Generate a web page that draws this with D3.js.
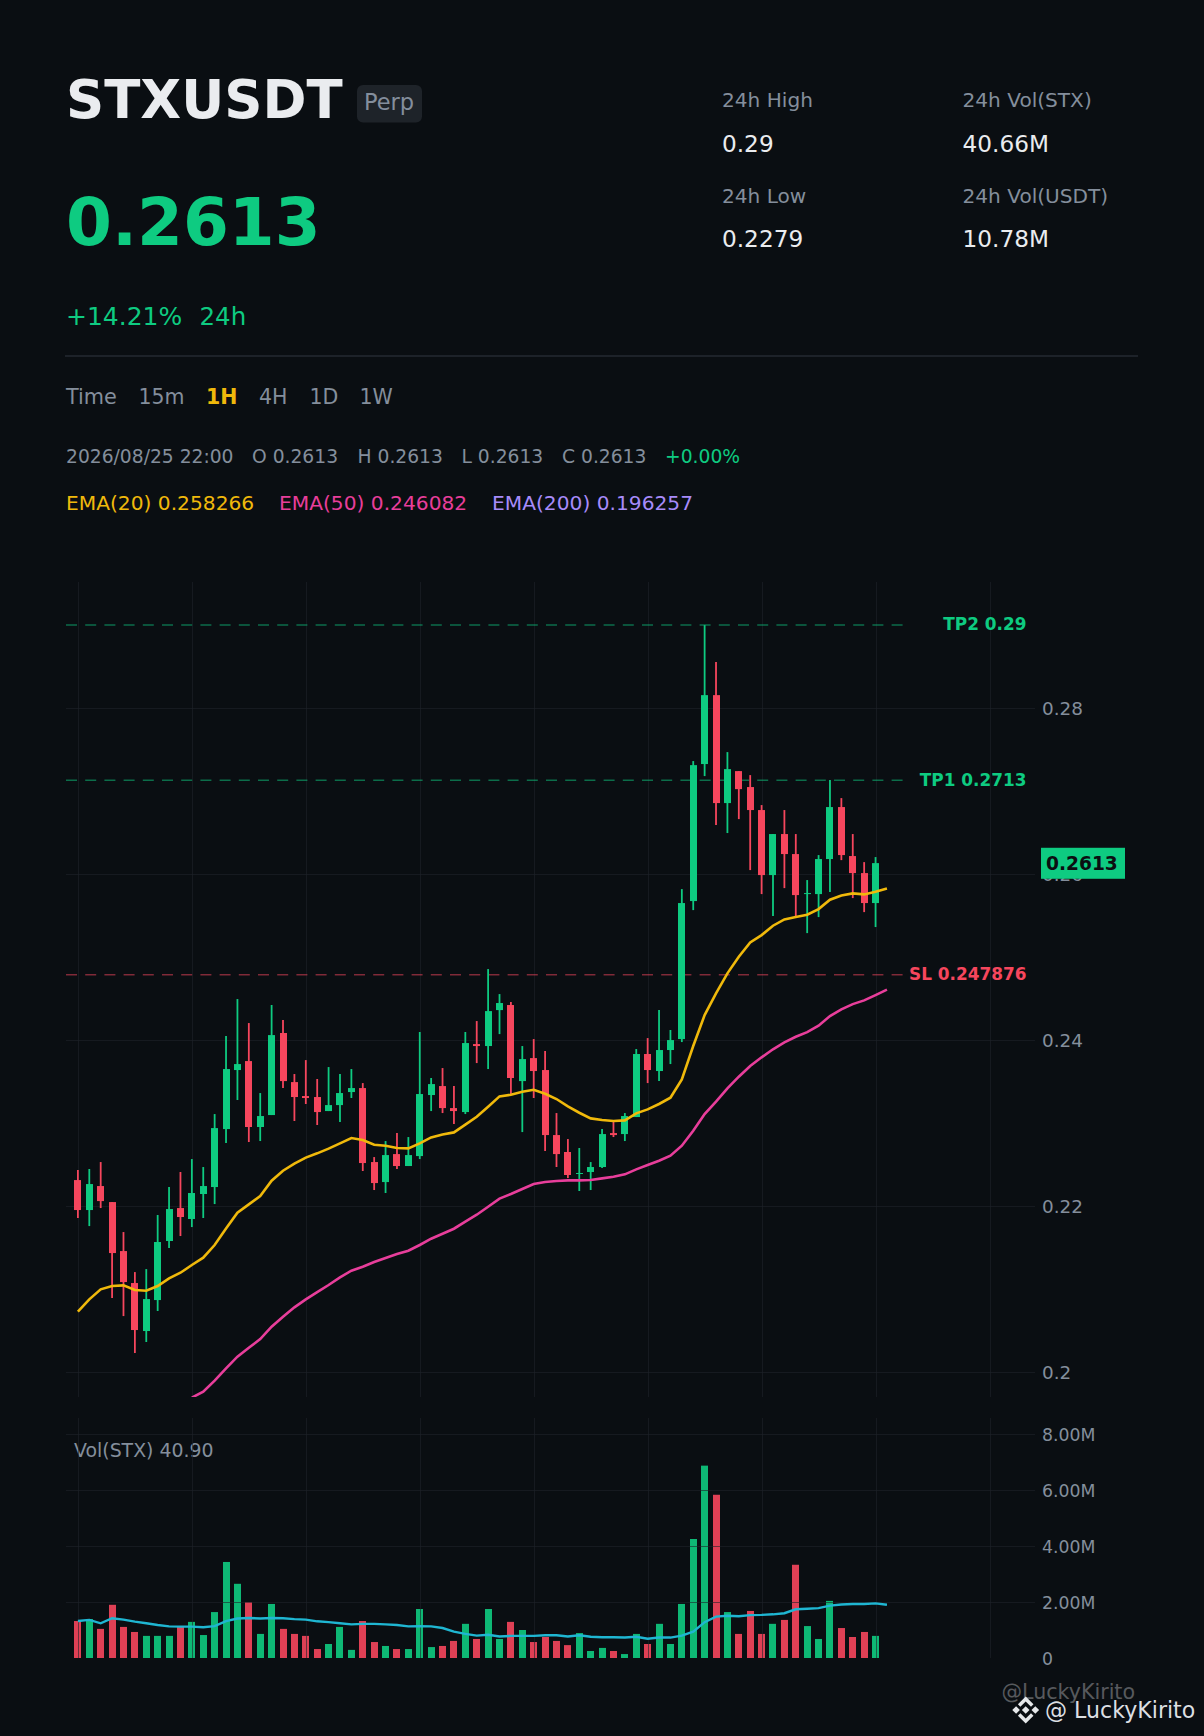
<!DOCTYPE html>
<html>
<head>
<meta charset="utf-8">
<title>STXUSDT</title>
<script src="https://cdn.jsdelivr.net/npm/d3@7"></script>
<style>
  html, body { margin: 0; padding: 0; background: #0a0e12; }
  svg { display: block; font-family: "DejaVu Sans", sans-serif; }
  .axis path { display: none; }
  .axis line { display: none; }
  .grid path { display: none; }
  .grid line { stroke: #1e2329; stroke-opacity: 0.6; shape-rendering: crispEdges; }
</style>
</head>
<body>
<svg id="chart" width="1204" height="1736"></svg>
<script>
// candles, oldest first. last one is the bar that just opened
const opens = [.22315,.21954,.22243,.22050,.21460,.21075,.20497,.20870,.21581,.21978,.21846,.22147,.22231,.22929,.23640,.23748,.22954,.23098,.24086,.23495,.23327,.23315,.23146,.23218,.23375,.23423,.22532,.22291,.22628,.22484,.22604,.23339,.23447,.23182,.23134,.23953,.23929,.24362,.24423,.23507,.23784,.23640,.22857,.22653,.22388,.22412,.22472,.22881,.22869,.23074,.23833,.23628,.23881,.24013,.25675,.27325,.28155,.26855,.27240,.27048,.26771,.25988,.26482,.26241,.25759,.25759,.26181,.26807,.26217,.26012,.25651,.2613];
const highs = [.22436,.22448,.22532,.22050,.21689,.21207,.21243,.21894,.22231,.22412,.22568,.22472,.23110,.24049,.24495,.24206,.23363,.24423,.24242,.23592,.23760,.23532,.23676,.23592,.23652,.23483,.22592,.22785,.22881,.22833,.24098,.23544,.23664,.23447,.24098,.24230,.24856,.24555,.24459,.23929,.24013,.23869,.23122,.22809,.22701,.22532,.22929,.23014,.23122,.23893,.24025,.24362,.24122,.25819,.27361,.28998,.28553,.27469,.27240,.27192,.26831,.26482,.26771,.26482,.25928,.26229,.27132,.26915,.26482,.26144,.26205,.2613];
const lows = [.21858,.21761,.21978,.20894,.20677,.20232,.20365,.20738,.21496,.21641,.21749,.21858,.22026,.22761,.23279,.22773,.22785,.23098,.23423,.23026,.23231,.22978,.23146,.23014,.23303,.22424,.22195,.22159,.22448,.22484,.22568,.23146,.23122,.22990,.23110,.23724,.23652,.24073,.23351,.22893,.23303,.22665,.22472,.22339,.22183,.22195,.22460,.22833,.22785,.23074,.23483,.23507,.23712,.23977,.25566,.27180,.26590,.26494,.26662,.26048,.25759,.25494,.25831,.25494,.25289,.25482,.25783,.26168,.25711,.25542,.25362,.2613];
const closes = [.21954,.22267,.22062,.21436,.21087,.20509,.20882,.21569,.21966,.21870,.22159,.22243,.22941,.23652,.23712,.22954,.23086,.24061,.23507,.23315,.23303,.23134,.23218,.23363,.23423,.22520,.22279,.22616,.22484,.22616,.23351,.23471,.23182,.23146,.23965,.23929,.24350,.24447,.23544,.23772,.23628,.22857,.22628,.22376,.22400,.22472,.22869,.22857,.23086,.23833,.23640,.23881,.24001,.25651,.27312,.28155,.26855,.27264,.27023,.26771,.25988,.26482,.26241,.25747,.25771,.26181,.26807,.26229,.26012,.25651,.26132,.2613];

// volume in millions, last value is 40.90 coins
const volumes = [1.32,1.39,1.04,1.90,1.11,.93,.79,.79,.79,1.11,1.29,.82,1.64,3.43,2.65,2.00,.86,1.93,1.04,.86,.79,.32,.50,1.11,.29,1.32,.57,.43,.32,.32,1.75,.39,.43,.61,1.22,.68,1.75,.68,1.29,1.00,.57,.75,.61,.46,.89,.25,.36,.25,.14,.86,.50,1.22,.50,1.93,4.25,6.87,5.83,1.64,.86,1.68,.86,1.22,1.36,3.33,1.14,.68,2.04,1.07,.75,.93,.79,.0000409];
const volMa = [1.32,1.36,1.24,1.42,1.37,1.30,1.24,1.18,1.13,1.12,1.12,1.10,1.14,1.32,1.41,1.43,1.41,1.43,1.42,1.39,1.37,1.31,1.28,1.24,1.20,1.22,1.22,1.20,1.18,1.13,1.14,1.13,1.07,.94,.86,.80,.83,.77,.79,.79,.79,.81,.81,.77,.81,.76,.74,.74,.73,.76,.69,.73,.73,.80,.94,1.28,1.48,1.51,1.49,1.53,1.54,1.56,1.60,1.74,1.76,1.78,1.87,1.91,1.93,1.93,1.95,1.90];

const ema20 = [.20730,.20878,.20999,.21039,.21047,.20991,.20983,.21039,.21131,.21199,.21292,.21380,.21533,.21733,.21922,.22022,.22123,.22307,.22428,.22512,.22585,.22637,.22693,.22757,.22821,.22797,.22741,.22729,.22701,.22697,.22757,.22829,.22865,.22889,.22982,.23078,.23198,.23323,.23343,.23379,.23403,.23355,.23291,.23202,.23126,.23058,.23038,.23026,.23034,.23118,.23166,.23231,.23307,.23528,.23929,.24302,.24563,.24804,.25004,.25177,.25265,.25378,.25454,.25482,.25510,.25578,.25691,.25743,.25767,.25755,.25787,.258266];
// ema50 sits under the bottom of the pane before bar 10
const ema50 = [null,null,null,null,null,null,null,null,null,null,.19695,.19766,.19899,.20047,.20188,.20296,.20400,.20549,.20669,.20782,.20878,.20966,.21051,.21143,.21223,.21271,.21328,.21376,.21424,.21464,.21533,.21609,.21669,.21729,.21814,.21898,.21994,.22091,.22147,.22207,.22267,.22291,.22303,.22311,.22311,.22315,.22335,.22355,.22384,.22444,.22496,.22548,.22608,.22729,.22909,.23110,.23259,.23419,.23560,.23688,.23793,.23890,.23973,.24041,.24097,.24174,.24290,.24370,.24434,.24479,.24543,.246082];

const priceTicks = [0.2, 0.22, 0.24, 0.26, 0.28];
const volTicks = [2, 4, 6, 8];
const volTickLabels = ["0", "2.00M", "4.00M", "6.00M", "8.00M"];
const timeGrid = [0, 10, 20, 30, 40, 50, 60, 70, 80];

const levels = [
  { label: "TP2 0.29", value: 0.29, color: "#0ecb81" },
  { label: "TP1 0.2713", value: 0.2713, color: "#0ecb81" },
  { label: "SL 0.247876", value: 0.247876, color: "#f6465d" }
];
const lastPrice = 0.2613;

const GREEN = "#0ecb81", RED = "#f6465d", GREY = "#848e9c", AMBER = "#f0b90b", PINK = "#e83e9b";

const svg = d3.select("#chart");

function label(x, y, str, size, fill, weight) {
  return svg.append("text")
    .attr("x", x).attr("y", y)
    .attr("font-size", size)
    .attr("font-weight", weight || "normal")
    .attr("fill", fill)
    .text(str);
}

// header
label(66, 118, "STXUSDT", 53, "#eaecef", "bold");
svg.append("rect").attr("x", 357).attr("y", 85).attr("width", 65).attr("height", 37.5).attr("rx", 6).attr("fill", "#1e2329");
label(364, 110, "Perp", 22.5, GREY);
label(66, 245, "0.2613", 66, GREEN, "bold");
label(66, 324.5, "+14.21%", 25, GREEN);
label(199.5, 324.5, "24h", 24.5, GREEN);

label(722, 107, "24h High", 20.1, GREY);
label(722, 151.5, "0.29", 23.2, "#eaecef");
label(722, 203, "24h Low", 20.1, GREY);
label(722, 246.5, "0.2279", 23.2, "#eaecef");
label(962.5, 107, "24h Vol(STX)", 20.1, GREY);
label(962.5, 151.5, "40.66M", 23.2, "#eaecef");
label(962.5, 203, "24h Vol(USDT)", 20.1, GREY);
label(962.5, 246.5, "10.78M", 23.2, "#eaecef");

svg.append("line").attr("x1", 65).attr("x2", 1138).attr("y1", 356).attr("y2", 356)
  .attr("stroke", "#252a32").attr("stroke-width", 1.5);

label(66, 404, "Time", 20.8, GREY);
label(138.5, 404, "15m", 20.5, GREY);
label(206, 404, "1H", 20.5, AMBER, "bold");
label(259, 404, "4H", 20.5, GREY);
label(309.5, 404, "1D", 20.5, GREY);
label(359.5, 404, "1W", 20.5, GREY);

label(66, 463, "2026/08/25 22:00", 18.7, GREY);
label(252, 463, "O 0.2613", 18.7, GREY);
label(357.5, 463, "H 0.2613", 18.7, GREY);
label(461.5, 463, "L 0.2613", 18.7, GREY);
label(562, 463, "C 0.2613", 18.7, GREY);
label(665, 463, "+0.00%", 18.7, GREEN);

label(66, 510, "EMA(20) 0.258266", 20.2, AMBER);
label(279, 510, "EMA(50) 0.246082", 20.2, PINK);
label(492, 510, "EMA(200) 0.196257", 20.2, "#a78bfa");

// scales
const x = d3.scaleLinear().domain([0, 80]).range([78.7, 990.3]);
const y = d3.scaleLinear().domain([0.2, 0.28]).range([1372.3, 708]);
const yVol = d3.scaleLinear().domain([0, 8]).range([1658, 1434]);

// bars sit about a pixel left of the vertical grid
const xBar = i => x(i) - 0.8;

const left = 66, right = 1035;
const indexes = d3.range(opens.length);

svg.append("clipPath").attr("id", "pricePane").append("rect")
  .attr("x", left).attr("y", 582).attr("width", right - left).attr("height", 815);

// price pane grid
svg.append("g").attr("class", "grid")
  .attr("transform", `translate(${right},0)`)
  .call(d3.axisLeft(y).offset(0).tickValues(priceTicks).tickSize(right - left).tickFormat(""));
svg.append("g").attr("class", "grid")
  .attr("transform", "translate(0,1397)")
  .call(d3.axisTop(x).offset(0).tickValues(timeGrid).tickSize(815).tickFormat(""));

// right hand price labels
const priceAxis = svg.append("g").attr("class", "axis")
  .attr("transform", "translate(1035,1)")
  .call(d3.axisRight(y).offset(0).tickValues(priceTicks).tickSize(0).tickPadding(7).tickFormat(d => String(d)));
priceAxis.selectAll("text").attr("fill", GREY).attr("font-size", 18.4).attr("font-family", "DejaVu Sans");

// TP / SL
const levelGroup = svg.append("g");
levels.forEach(l => {
  levelGroup.append("line")
    .attr("x1", left).attr("x2", 904)
    .attr("y1", y(l.value)).attr("y2", y(l.value))
    .attr("stroke", l.color).attr("stroke-opacity", 0.5).attr("stroke-width", 1.6)
    .attr("stroke-dasharray", "11 8.2");
  levelGroup.append("text")
    .attr("x", 1026.5).attr("y", y(l.value) + 5.5)
    .attr("text-anchor", "end")
    .attr("font-size", 16.9).attr("font-weight", "bold")
    .attr("fill", l.color)
    .text(l.label);
});

// candles
const candles = svg.append("g").attr("clip-path", "url(#pricePane)");
const isUp = i => closes[i] >= opens[i];

candles.selectAll("line.wick").data(indexes).join("line")
  .attr("class", "wick")
  .attr("x1", i => xBar(i)).attr("x2", i => xBar(i))
  .attr("y1", i => y(highs[i])).attr("y2", i => y(lows[i]))
  .attr("stroke", i => isUp(i) ? GREEN : RED)
  .attr("stroke-width", 1.8);

candles.selectAll("rect.body").data(indexes).join("rect")
  .attr("class", "body")
  .attr("x", i => Math.round(xBar(i) - 3.5))
  .attr("width", 7)
  .attr("y", i => y(Math.max(opens[i], closes[i])))
  .attr("height", i => Math.abs(y(opens[i]) - y(closes[i])))
  .attr("fill", i => isUp(i) ? GREEN : RED);

const emaLine = d3.line()
  .defined(d => d != null)
  .x((d, i) => xBar(i))
  .y(d => y(d));

candles.append("path").datum(ema50).attr("d", emaLine)
  .attr("fill", "none").attr("stroke", PINK).attr("stroke-width", 2.6);
candles.append("path").datum(ema20).attr("d", emaLine)
  .attr("fill", "none").attr("stroke", AMBER).attr("stroke-width", 2.6);

// last price tag
svg.append("rect").attr("x", 1041).attr("y", y(lastPrice) - 15.5).attr("width", 84).attr("height", 31).attr("fill", GREEN);
label(1046, y(lastPrice) + 6.5, "0.2613", 18.6, "#0b0e11", "bold");

// volume pane
label(74, 1457, "Vol(STX) 40.90", 18.9, GREY);

svg.append("g").selectAll("rect").data(indexes).join("rect")
  .attr("x", i => Math.round(xBar(i) - 3.5))
  .attr("width", 7)
  .attr("y", i => yVol(volumes[i]))
  .attr("height", i => yVol(0) - yVol(volumes[i]))
  .attr("fill", i => isUp(i) ? GREEN : RED)
  .attr("fill-opacity", 0.9);

// grid goes over the volume bars here, the reference shows it through them
svg.append("g").attr("class", "grid")
  .attr("transform", `translate(${right},0)`)
  .call(d3.axisLeft(yVol).offset(0).tickValues(volTicks).tickSize(right - left).tickFormat(""));
svg.append("g").attr("class", "grid")
  .attr("transform", "translate(0,1658)")
  .call(d3.axisTop(x).offset(0).tickValues(timeGrid).tickSize(240).tickFormat(""));

svg.append("path").datum(volMa)
  .attr("d", d3.line().x((d, i) => xBar(i)).y(d => yVol(d)))
  .attr("fill", "none").attr("stroke", "#1fb6d2").attr("stroke-width", 2.4);

const volAxis = svg.append("g").attr("class", "axis")
  .attr("transform", "translate(1035,1)")
  .call(d3.axisRight(yVol).offset(0).tickValues([0].concat(volTicks)).tickSize(0).tickPadding(7)
    .tickFormat(d => volTickLabels[d / 2]));
volAxis.selectAll("text").attr("fill", GREY).attr("font-size", 17.3).attr("font-family", "DejaVu Sans");

// watermarks
svg.append("text").attr("x", 1001.5).attr("y", 1699).attr("font-size", 20.6)
  .attr("fill", "#eaecef").attr("fill-opacity", 0.35).text("@LuckyKirito");

const logo = svg.append("g").attr("transform", "translate(1025.7,1710) rotate(45)").attr("fill", "#e6e8ea");
logo.append("rect").attr("x", -2.7).attr("y", -2.7).attr("width", 5.4).attr("height", 5.4);
logo.append("rect").attr("x", -9.5).attr("y", 4.1).attr("width", 5.4).attr("height", 5.4);
logo.append("rect").attr("x", 4.1).attr("y", -9.5).attr("width", 5.4).attr("height", 5.4);
logo.append("path").attr("d", "M-9.5,-9.5h11v3.5h-7.5v7.5h-3.5z");
logo.append("path").attr("d", "M9.5,9.5h-11v-3.5h7.5v-7.5h3.5z");

svg.append("text").attr("x", 1045).attr("y", 1718).attr("font-size", 22.1)
  .attr("fill", "#dcdfe2").text("@ LuckyKirito");
</script>
</body>
</html>
